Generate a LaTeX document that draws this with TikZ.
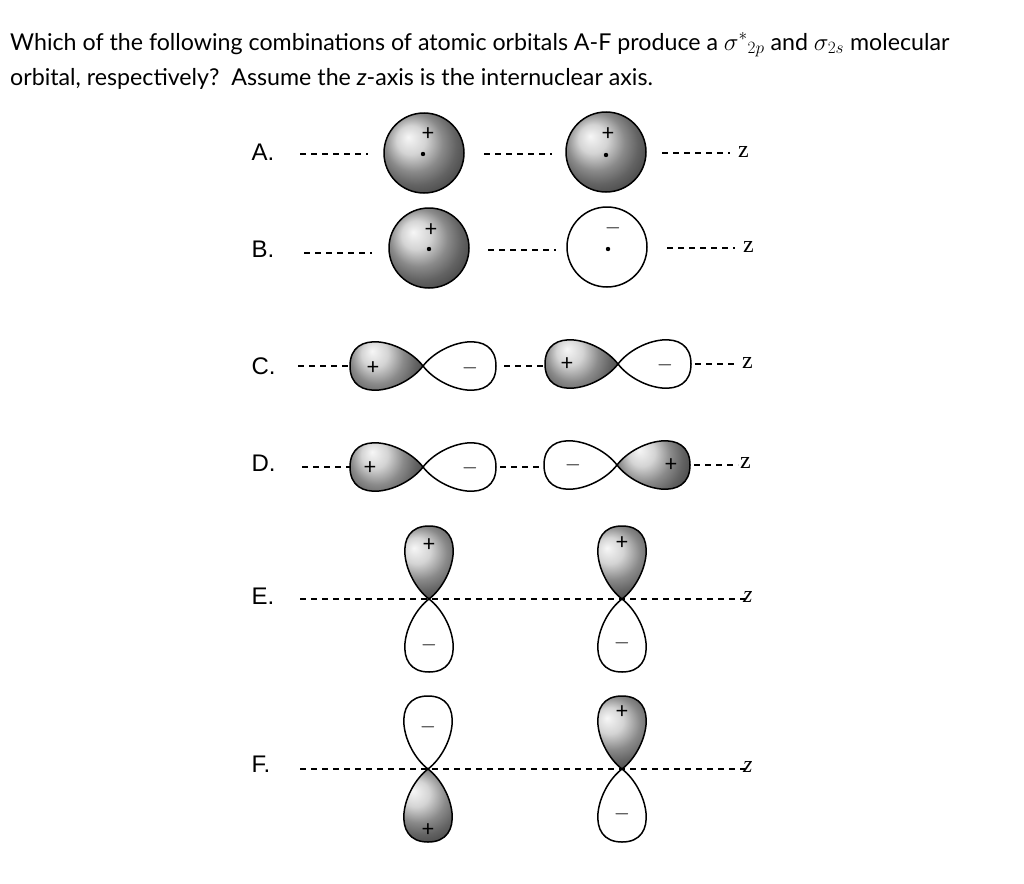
\documentclass[tikz,border=0pt]{standalone}
\usepackage{fontspec}
\setmainfont{Lato}
\newfontfamily\arialf{Liberation Sans}
\newfontfamily\timesf{Liberation Serif}
\tikzset{
  sh/.style={ball color=gray!45, draw=black, line width=1.5pt},
  op/.style={fill=white, draw=black, line width=1.5pt},
  ax/.style={dash pattern=on 6pt off 5pt, line width=1.3pt},
  lab/.style={font=\arialf\fontsize{24}{26}\selectfont, anchor=west},
  zl/.style={font=\timesf\fontsize{24}{26}\selectfont, anchor=west, inner sep=0pt},
  sg/.style={font=\fontsize{22}{24}\selectfont, inner sep=0pt},
}
\newcommand\lobe[4]{\path[#4, shift={(#1,#2)}, rotate=#3] (0,0) .. controls (20,26) and (73,38) .. (73,0) .. controls (73,-38) and (20,-26) .. (0,0) -- cycle;}
\begin{document}
\begin{tikzpicture}[x=1pt,y=-1pt]
\useasboundingbox[fill=white] (0,0) rectangle (1024,883);
\node[anchor=base west, inner sep=0pt, font=\fontsize{23.2}{26}\selectfont] (q1) at (10,50) {Which of the following combinations of atomic orbitals A-F produce a $\sigma^{*}{}_{2p}$ and $\sigma_{2s}$ molecular};
\node[anchor=base west, inner sep=0pt, font=\fontsize{23.2}{26}\selectfont] (q2) at (10,85) {orbital, respectively?\ \ Assume the \textit{z}-axis is the internuclear axis.};
% labels
\node[lab] (la) at (248,152) {A.};
\node[lab] (lb) at (248,249) {B.};
\node[lab] (lc) at (248,366) {C.};
\node[lab] (ld) at (248,463) {D.};
\node[lab] (le) at (248,596) {E.};
\node[lab] (lf) at (248,764) {F.};
% A
\draw[ax] (300,154) -- (368,154);
\draw[ax] (484,154) -- (552,154);
\draw[ax] (662,153) -- (730,153);
\node[zl] (za) at (738,152) {z};
\draw[sh] (424,153) circle (40);
\draw[sh] (606,152) circle (40);
\node[sg] at (428,134) {+};
\fill (423,154) circle (2.2);
\node[sg] at (608,134) {+};
\fill (606,155) circle (2.2);
% B
\draw[ax] (304,253) -- (372,253);
\draw[ax] (488,250) -- (556,250);
\draw[ax] (667,248) -- (735,248);
\node[zl] (zb) at (743,247) {z};
\draw[sh] (429,248) circle (40);
\draw[op] (607,247) circle (40);
\node[sg] at (431,230) {+};
\fill (429,249) circle (2.2);
\node[sg] at (613,228) {$-$};
\fill (608,249) circle (2.2);
% C
\draw[ax] (298,366) -- (352,366);
\draw[ax] (504,366) -- (547,366);
\draw[ax] (695,364) -- (737,364);
\node[zl] (zc) at (742,363) {z};
\lobe{423}{366}{180}{sh}
\lobe{423}{366}{0}{op}
\lobe{618}{364}{180}{sh}
\lobe{618}{364}{0}{op}
\node[sg] at (373,368) {+};
\node[sg] at (470,368) {$-$};
\node[sg] at (567,364) {+};
\node[sg] at (665,365) {$-$};
% D
\draw[ax] (302,467) -- (352,467);
\draw[ax] (500,467) -- (545,467);
\draw[ax] (694,465) -- (738,465);
\node[zl] (zd) at (740,463) {z};
\lobe{423}{467}{180}{sh}
\lobe{423}{467}{0}{op}
\lobe{617}{465}{180}{op}
\lobe{617}{465}{0}{sh}
\node[sg] at (370,468) {+};
\node[sg] at (470,468) {$-$};
\node[sg] at (573,465) {$-$};
\node[sg] at (671,465) {+};
% E
\draw[ax] (300,599) -- (745,599);
\node[zl,font=\timesf\itshape\fontsize{24}{26}\selectfont] (ze) at (743,597) {z};
\lobe{429}{599}{90}{sh}
\lobe{429}{599}{270}{op}
\lobe{622}{599}{90}{sh}
\lobe{622}{599}{270}{op}
\node[sg] at (429,545) {+};
\node[sg] at (429,645) {$-$};
\node[sg] at (622,543) {+};
\node[sg] at (622,643) {$-$};
% F
\draw[ax] (300,769) -- (745,769);
\node[zl,font=\timesf\itshape\fontsize{24}{26}\selectfont] (zf) at (743,767) {z};
\lobe{428}{769}{90}{op}
\lobe{428}{769}{270}{sh}
\lobe{622}{769}{90}{sh}
\lobe{622}{769}{270}{op}
\node[sg] at (428,727) {$-$};
\node[sg] at (428,830) {+};
\node[sg] at (622,712) {+};
\node[sg] at (622,814) {$-$};
\end{tikzpicture}
\end{document}
